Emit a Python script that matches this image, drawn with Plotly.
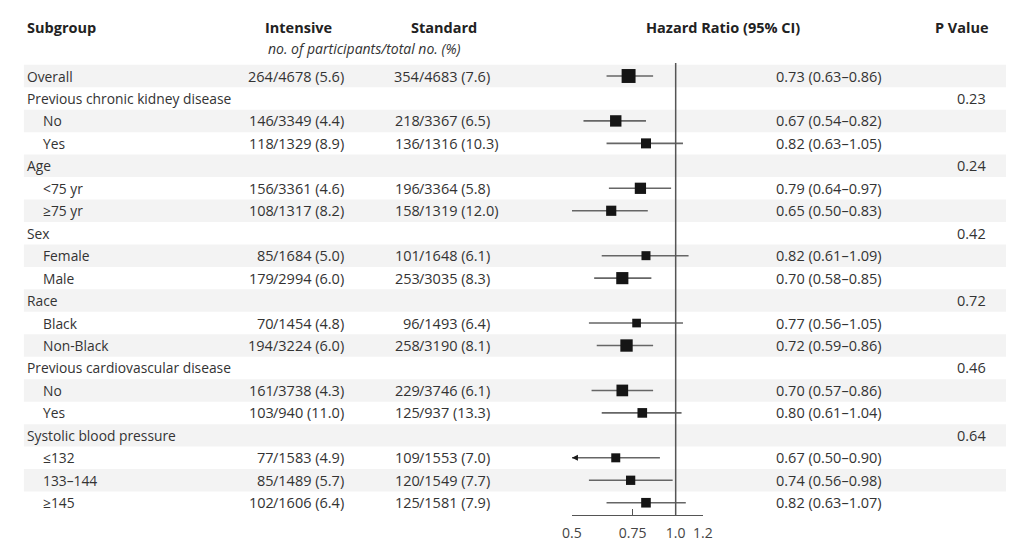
import math
import plotly.graph_objects as go

# ---------------- data ----------------
subgroups = ["Overall", "Previous chronic kidney disease", "No", "Yes", "Age", "<75 yr", "≥75 yr",
             "Sex", "Female", "Male", "Race", "Black", "Non-Black",
             "Previous cardiovascular disease", "No", "Yes",
             "Systolic blood pressure", "≤132", "133–144", "≥145"]
is_sub = [False, False, True, True, False, True, True, False, True, True, False, True, True,
          False, True, True, False, True, True, True]

int_events = [264, None, 146, 118, None, 156, 108, None, 85, 179, None, 70, 194, None, 161, 103, None, 77, 85, 102]
int_total = [4678, None, 3349, 1329, None, 3361, 1317, None, 1684, 2994, None, 1454, 3224, None, 3738, 940, None, 1583, 1489, 1606]
int_pct = [5.6, None, 4.4, 8.9, None, 4.6, 8.2, None, 5.0, 6.0, None, 4.8, 6.0, None, 4.3, 11.0, None, 4.9, 5.7, 6.4]
std_events = [354, None, 218, 136, None, 196, 158, None, 101, 253, None, 96, 258, None, 229, 125, None, 109, 120, 125]
std_total = [4683, None, 3367, 1316, None, 3364, 1319, None, 1648, 3035, None, 1493, 3190, None, 3746, 937, None, 1553, 1549, 1581]
std_pct = [7.6, None, 6.5, 10.3, None, 5.8, 12.0, None, 6.1, 8.3, None, 6.4, 8.1, None, 6.1, 13.3, None, 7.0, 7.7, 7.9]

hr = [0.73, None, 0.67, 0.82, None, 0.79, 0.65, None, 0.82, 0.70, None, 0.77, 0.72, None, 0.70, 0.80, None, 0.67, 0.74, 0.82]
ci_low = [0.63, None, 0.54, 0.63, None, 0.64, 0.50, None, 0.61, 0.58, None, 0.56, 0.59, None, 0.57, 0.61, None, 0.50, 0.56, 0.63]
ci_high = [0.86, None, 0.82, 1.05, None, 0.97, 0.83, None, 1.09, 0.85, None, 1.05, 0.86, None, 0.86, 1.04, None, 0.90, 0.98, 1.07]
truncated_low = ["≤132"]  # CI drawn with an arrow at the axis minimum

p_values = [None, "0.23", None, None, "0.24", None, None, "0.42", None, None, "0.72", None, None,
            "0.46", None, None, "0.64", None, None, None]

tick_vals = [0.5, 0.75, 1.0, 1.2]
tick_text = ["0.5", "0.75", "1.0", "1.2"]

headers = ["Subgroup", "Intensive", "Standard", "Hazard Ratio (95% CI)", "P Value"]
subheader = "no. of participants/total no. (%)"

# ---------------- layout constants (screen pixels) ----------------
OFF = 8                              # page body margin
SW, SH = 1024, 556                   # screen size
W, H = SW - 2 * OFF, SH - 2 * OFF    # figure size (fits without scrollbars)
ROW0, PITCH = 76.0, 22.46
AX_TOP, AX_BOT = 63, 515
AX_L, AX_R = 573, 707
FONT = "Open Sans"
TXT = "#333333"


def px(x):
    return (x - OFF) / W


def py(y):
    return 1 - (y - OFF) / H


n = len(subgroups)
rows = list(range(n))
y_lo_row = (AX_BOT - ROW0) / PITCH
y_hi_row = (AX_TOP - ROW0) / PITCH

fig = go.Figure()

# CI lines
lx, ly = [], []
for i in rows:
    if hr[i] is None:
        continue
    lx += [ci_low[i], ci_high[i], None]
    ly += [i, i, None]
fig.add_trace(go.Scatter(x=lx, y=ly, mode="lines", line=dict(color="#666666", width=1.6),
                         hoverinfo="skip", cliponaxis=False, showlegend=False))

# reference line at HR = 1
fig.add_trace(go.Scatter(x=[1, 1], y=[y_hi_row, y_lo_row], mode="lines",
                         line=dict(color="#555555", width=1.5), hoverinfo="skip",
                         cliponaxis=False, showlegend=False))

# arrow for truncated CIs
ax_, ay_ = [], []
for i in rows:
    if subgroups[i] in truncated_low and hr[i] is not None:
        ax_.append(ci_low[i]); ay_.append(i)
fig.add_trace(go.Scatter(x=ax_, y=ay_, mode="markers",
                         marker=dict(symbol="arrow-left", size=6, color="#1a1a1a", line=dict(width=0)),
                         hoverinfo="skip", cliponaxis=False, showlegend=False))

# squares (size scaled by number of events)
mx, my, ms = [], [], []
for i in rows:
    if hr[i] is None:
        continue
    ev = int_events[i] + std_events[i]
    mx.append(hr[i]); my.append(i); ms.append(3.0 + 0.44 * math.sqrt(ev))
fig.add_trace(go.Scatter(x=mx, y=my, mode="markers",
                         marker=dict(symbol="square", size=ms, color="#151515", opacity=1,
                                     line=dict(width=0)),
                         hoverinfo="skip", cliponaxis=False, showlegend=False))

shapes = []
for i in rows:
    if i % 2 == 0:
        shapes.append(dict(type="rect", xref="paper", yref="y", x0=px(14), x1=1.0,
                           y0=i - 0.5, y1=i + 0.5, fillcolor="#f3f3f3", line=dict(width=0),
                           layer="below"))

ann = []


def txt(xpx, y, s, anchor="left", size=13.8, color=TXT, yref="y", xshift=0):
    ann.append(dict(xref="paper", x=px(xpx), yref=yref, y=y, text=s, showarrow=False,
                    xanchor=anchor, yanchor="middle", borderpad=0, xshift=xshift,
                    font=dict(family=FONT, size=size, color=color)))


# headers
hy = py(27)
HS = 14.5
txt(16, hy, "<b>" + headers[0] + "</b>", "left", HS, "#222", "paper")
txt(294, hy, "<b>" + headers[1] + "</b>", "center", HS, "#222", "paper")
txt(443, hy, "<b>" + headers[2] + "</b>", "center", HS, "#222", "paper")
txt(727, hy, "<b>" + headers[3] + "</b>", "center", HS, "#222", "paper")
txt(971, hy, "<b>" + headers[4] + "</b>", "center", HS, "#222", "paper")
txt(362, py(48), "<i>" + subheader + "</i>", "center", 14, "#333", "paper")

NS = 14.5
INT_SLASH, STD_SLASH = 268, 417
for i in rows:
    txt(32 if is_sub[i] else 16, i, subgroups[i])
    if int_events[i] is not None:
        txt(INT_SLASH, i, str(int_events[i]), "right", NS, xshift=2)
        txt(INT_SLASH, i, "/%d (%.1f)" % (int_total[i], int_pct[i]), "left", NS, xshift=-1)
        txt(STD_SLASH, i, str(std_events[i]), "right", NS, xshift=2)
        txt(STD_SLASH, i, "/%d (%.1f)" % (std_total[i], std_pct[i]), "left", NS, xshift=-1)
    if hr[i] is not None:
        txt(780, i, "%.2f (%.2f–%.2f)" % (hr[i], ci_low[i], ci_high[i]), "left", NS)
    if p_values[i] is not None:
        txt(997, i, p_values[i], "right", NS)

fig.update_layout(
    width=W, height=H, margin=dict(l=0, r=0, t=0, b=0),
    paper_bgcolor="white", plot_bgcolor="rgba(0,0,0,0)",
    shapes=shapes, annotations=ann, showlegend=False,
    xaxis=dict(type="log", domain=[px(AX_L), px(AX_R)],
               range=[math.log10(0.5) - 0.0005, math.log10(1.2) + 0.0005],
               tickvals=tick_vals, ticktext=tick_text, ticks="inside", ticklen=6,
               tickwidth=1.4, tickcolor="#555", showline=True, linecolor="#555", linewidth=1.4,
               showgrid=False, zeroline=False, ticklabelstandoff=5,
               tickfont=dict(family=FONT, size=14, color="#444")),
    yaxis=dict(domain=[py(AX_BOT), py(AX_TOP)], range=[y_lo_row, y_hi_row],
               visible=False, showgrid=False, zeroline=False),
)

fig.write_html("out.html")
